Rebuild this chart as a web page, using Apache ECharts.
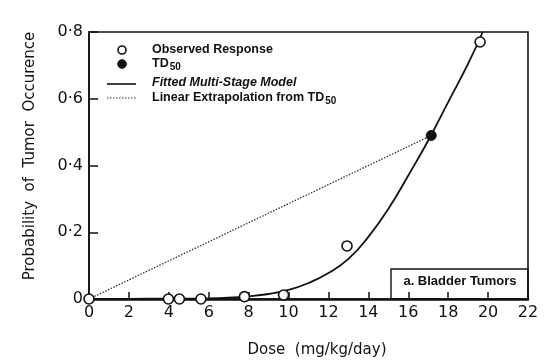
<!DOCTYPE html>
<html>
<head>
<meta charset="utf-8">
<script src="https://cdn.jsdelivr.net/npm/echarts@6/dist/echarts.min.js"></script>
<style>
html,body{margin:0;padding:0;background:#fff;}
#c{width:554px;height:363px;}
</style>
</head>
<body>
<div id="c"></div>
<script>
// Observed response (dose mg/kg/day, probability)
var obsDose = [0, 3.98, 4.53, 5.61, 7.79, 9.75, 12.93, 19.6];
var obsProb = [0, 0, 0, 0, 0.007, 0.012, 0.159, 0.77];
// TD50 point
var td50Dose = [17.15];
var td50Prob = [0.49];
// Fitted multi-stage model curve
var fitDose = [0, 2, 4, 6, 7, 8, 9, 10, 11, 12, 13, 14, 15, 16, 17, 18, 19, 19.73];
var fitProb = [0, 0.0005, 0.001, 0.002, 0.004, 0.008, 0.015, 0.027, 0.048, 0.078, 0.12, 0.186, 0.27, 0.37, 0.475, 0.59, 0.705, 0.8];
// Linear extrapolation from TD50
var linDose = [0, 17.15];
var linProb = [0, 0.49];
// Axis ticks
var xTicks = [0, 22, 2];
var yTicks = [0, 0.8, 0.2];

function pairs(xs, ys){ return xs.map(function(x,i){ return [x, ys[i]]; }); }

var font = '"Liberation Sans", Arial, sans-serif';
var wide = '"DejaVu Sans", sans-serif';
var chart = echarts.init(document.getElementById('c'), null, {renderer:'canvas'});

var L = 89, R = 528, T = 32, B = 299;

chart.setOption({
  animation: false,
  backgroundColor: '#fff',
  grid: {left: L, right: 554 - R, top: T, bottom: 363 - B, show: true, borderColor: '#111', borderWidth: 1.6, backgroundColor: 'transparent'},
  xAxis: {
    type: 'value', min: xTicks[0], max: xTicks[1], interval: xTicks[2],
    axisLine: {show: true, lineStyle: {color: '#111', width: 2.5}},
    axisTick: {show: true, inside: true, length: 7, lineStyle: {color: '#111', width: 1.5}},
    splitLine: {show: false},
    axisLabel: {color: '#111', fontFamily: wide, fontSize: 16, margin: 6}
  },
  yAxis: {
    type: 'value', min: yTicks[0], max: yTicks[1], interval: yTicks[2],
    axisLine: {show: true, lineStyle: {color: '#111', width: 1.6}},
    axisTick: {show: true, inside: true, length: 9, lineStyle: {color: '#111', width: 1.5}},
    splitLine: {show: false},
    axisLabel: {color: '#111', fontFamily: wide, fontSize: 16, margin: 6,
      formatter: function(v){ if (v === 0) return '0'; return '0·' + Math.round(v*10); }}
  },
  series: [
    {type: 'line', data: pairs(linDose, linProb), showSymbol: false, symbol: 'none',
     lineStyle: {color: '#333', width: 1.3, type: [1.5, 1.5]}, z: 2},
    {type: 'line', data: pairs(fitDose, fitProb), showSymbol: false, symbol: 'none', smooth: 0.5,
     lineStyle: {color: '#111', width: 1.8}, z: 3, clip: true},
    {type: 'scatter', data: pairs(obsDose, obsProb), symbol: 'circle', symbolSize: 10,
     itemStyle: {color: '#fff', borderColor: '#111', borderWidth: 1.6, opacity: 1}, z: 5, clip: false},
    {type: 'scatter', data: pairs(td50Dose, td50Prob), symbol: 'circle', symbolSize: 10,
     itemStyle: {color: '#111', borderColor: '#111', borderWidth: 1, opacity: 1}, z: 6}
  ],
  graphic: [
    // y axis title
    {type: 'text', x: 30, y: 156, rotation: Math.PI/2, z: 10,
     style: {text: 'Probability  of  Tumor  Occurence', font: '15px ' + wide, fill: '#111', align: 'center', verticalAlign: 'middle'}},
    // x axis title
    {type: 'text', x: 317, y: 350, z: 10,
     style: {text: 'Dose  (mg/kg/day)', font: '15px ' + wide, fill: '#111', align: 'center', verticalAlign: 'middle'}},
    // legend
    {type: 'circle', shape: {cx: 122, cy: 50, r: 4}, style: {fill: '#fff', stroke: '#111', lineWidth: 1.6}, z: 10},
    {type: 'circle', shape: {cx: 122, cy: 64, r: 4.3}, style: {fill: '#111', stroke: '#111', lineWidth: 1}, z: 10},
    {type: 'line', shape: {x1: 107, y1: 84, x2: 136, y2: 84}, style: {stroke: '#111', lineWidth: 1.6}, z: 10},
    {type: 'line', shape: {x1: 107, y1: 98, x2: 137, y2: 98}, style: {stroke: '#333', lineWidth: 1.2, lineDash: [1.5, 1.5]}, z: 10},
    {type: 'text', x: 152, y: 50, z: 10,
     style: {text: 'Observed Response', font: 'bold 12.5px ' + font, fill: '#111', verticalAlign: 'middle'}},
    {type: 'text', x: 152, y: 64, z: 10,
     style: {text: 'TD{s|50}', font: 'bold 12.5px ' + font, fill: '#111', verticalAlign: 'middle',
       rich: {s: {font: 'bold 10px ' + font, fill: '#111', padding: [7, 0, 0, 1]}}}},
    {type: 'text', x: 152, y: 83, z: 10,
     style: {text: 'Fitted Multi-Stage Model', font: 'italic bold 12.5px ' + font, fill: '#111', verticalAlign: 'middle'}},
    {type: 'text', x: 152, y: 98, z: 10,
     style: {text: 'Linear Extrapolation from TD{s|50}', font: 'bold 12.5px ' + font, fill: '#111', verticalAlign: 'middle',
       rich: {s: {font: 'bold 10px ' + font, fill: '#111', padding: [7, 0, 0, 1]}}}},
    // annotation box
    {type: 'rect', shape: {x: 391, y: 269, width: R - 391, height: B - 269}, style: {fill: 'none', stroke: '#111', lineWidth: 1.4}, z: 10},
    {type: 'text', x: 460, y: 281, z: 10,
     style: {text: 'a. Bladder Tumors', font: 'bold 13px ' + font, fill: '#111', align: 'center', verticalAlign: 'middle'}}
  ]
});
</script>
</body>
</html>
